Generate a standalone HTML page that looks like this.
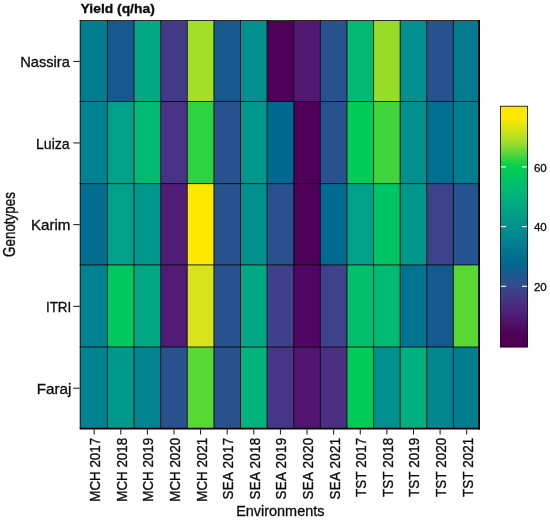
<!DOCTYPE html>
<html lang="en">
<head>
<meta charset="utf-8">
<title>Yield (q/ha) heatmap</title>
<style>
html,body{margin:0;padding:0;background:#fff;}
body{width:550px;height:520px;overflow:hidden;}
svg{display:block;}
text{font-family:"Liberation Sans",Arial,sans-serif;fill:#0c0c10;stroke:#0c0c10;stroke-width:0.3px;}
</style>
</head>
<body>
<svg width="550" height="520" viewBox="0 0 550 520">
<rect x="0" y="0" width="550" height="520" fill="#ffffff"/>
<g stroke="none" shape-rendering="crispEdges">
<rect x="80.20" y="20.50" width="27.56" height="81.30" fill="#007E90"/>
<rect x="107.46" y="20.50" width="26.91" height="81.30" fill="#16598F"/>
<rect x="134.07" y="20.50" width="26.91" height="81.30" fill="#00A984"/>
<rect x="160.68" y="20.50" width="26.91" height="81.30" fill="#433B88"/>
<rect x="187.29" y="20.50" width="26.91" height="81.30" fill="#A3DE28"/>
<rect x="213.90" y="20.50" width="26.91" height="81.30" fill="#16598F"/>
<rect x="240.51" y="20.50" width="26.91" height="81.30" fill="#00908E"/>
<rect x="267.12" y="20.50" width="26.91" height="81.30" fill="#4F0058"/>
<rect x="293.73" y="20.50" width="26.91" height="81.30" fill="#521973"/>
<rect x="320.34" y="20.50" width="26.91" height="81.30" fill="#27528E"/>
<rect x="346.95" y="20.50" width="26.91" height="81.30" fill="#00BA74"/>
<rect x="373.56" y="20.50" width="26.91" height="81.30" fill="#97DD28"/>
<rect x="400.17" y="20.50" width="26.91" height="81.30" fill="#00908E"/>
<rect x="426.78" y="20.50" width="26.91" height="81.30" fill="#27528E"/>
<rect x="453.39" y="20.50" width="26.01" height="81.30" fill="#007B90"/>
<rect x="80.20" y="101.50" width="27.56" height="82.40" fill="#008390"/>
<rect x="107.46" y="101.50" width="26.91" height="82.40" fill="#00A188"/>
<rect x="134.07" y="101.50" width="26.91" height="82.40" fill="#00BA74"/>
<rect x="160.68" y="101.50" width="26.91" height="82.40" fill="#493284"/>
<rect x="187.29" y="101.50" width="26.91" height="82.40" fill="#2ED341"/>
<rect x="213.90" y="101.50" width="26.91" height="82.40" fill="#27528E"/>
<rect x="240.51" y="101.50" width="26.91" height="82.40" fill="#00978C"/>
<rect x="267.12" y="101.50" width="26.91" height="82.40" fill="#006991"/>
<rect x="293.73" y="101.50" width="26.91" height="82.40" fill="#4F0058"/>
<rect x="320.34" y="101.50" width="26.91" height="82.40" fill="#27528E"/>
<rect x="346.95" y="101.50" width="26.91" height="82.40" fill="#00CC56"/>
<rect x="373.56" y="101.50" width="26.91" height="82.40" fill="#3FD43C"/>
<rect x="400.17" y="101.50" width="26.91" height="82.40" fill="#00908E"/>
<rect x="426.78" y="101.50" width="26.91" height="82.40" fill="#007091"/>
<rect x="453.39" y="101.50" width="26.01" height="82.40" fill="#007E90"/>
<rect x="80.20" y="183.60" width="27.56" height="81.60" fill="#006D91"/>
<rect x="107.46" y="183.60" width="26.91" height="81.60" fill="#00A188"/>
<rect x="134.07" y="183.60" width="26.91" height="81.60" fill="#00978C"/>
<rect x="160.68" y="183.60" width="26.91" height="81.60" fill="#511C75"/>
<rect x="187.29" y="183.60" width="26.91" height="81.60" fill="#FFE800"/>
<rect x="213.90" y="183.60" width="26.91" height="81.60" fill="#27528E"/>
<rect x="240.51" y="183.60" width="26.91" height="81.60" fill="#00908E"/>
<rect x="267.12" y="183.60" width="26.91" height="81.60" fill="#29518E"/>
<rect x="293.73" y="183.60" width="26.91" height="81.60" fill="#4F0058"/>
<rect x="320.34" y="183.60" width="26.91" height="81.60" fill="#006B91"/>
<rect x="346.95" y="183.60" width="26.91" height="81.60" fill="#00A188"/>
<rect x="373.56" y="183.60" width="26.91" height="81.60" fill="#00C564"/>
<rect x="400.17" y="183.60" width="26.91" height="81.60" fill="#00978C"/>
<rect x="426.78" y="183.60" width="26.91" height="81.60" fill="#3B448B"/>
<rect x="453.39" y="183.60" width="26.01" height="81.60" fill="#22558F"/>
<rect x="80.20" y="264.90" width="27.56" height="82.40" fill="#008390"/>
<rect x="107.46" y="264.90" width="26.91" height="82.40" fill="#00C85E"/>
<rect x="134.07" y="264.90" width="26.91" height="82.40" fill="#00A984"/>
<rect x="160.68" y="264.90" width="26.91" height="82.40" fill="#511C75"/>
<rect x="187.29" y="264.90" width="26.91" height="82.40" fill="#D8E31D"/>
<rect x="213.90" y="264.90" width="26.91" height="82.40" fill="#27528E"/>
<rect x="240.51" y="264.90" width="26.91" height="82.40" fill="#00A984"/>
<rect x="267.12" y="264.90" width="26.91" height="82.40" fill="#403F8A"/>
<rect x="293.73" y="264.90" width="26.91" height="82.40" fill="#510663"/>
<rect x="320.34" y="264.90" width="26.91" height="82.40" fill="#3D428A"/>
<rect x="346.95" y="264.90" width="26.91" height="82.40" fill="#00C06C"/>
<rect x="373.56" y="264.90" width="26.91" height="82.40" fill="#00BA74"/>
<rect x="400.17" y="264.90" width="26.91" height="82.40" fill="#007491"/>
<rect x="426.78" y="264.90" width="26.91" height="82.40" fill="#125A90"/>
<rect x="453.39" y="264.90" width="26.01" height="82.40" fill="#59D732"/>
<rect x="80.20" y="347.00" width="27.56" height="81.90" fill="#008390"/>
<rect x="107.46" y="347.00" width="26.91" height="81.90" fill="#009A8B"/>
<rect x="134.07" y="347.00" width="26.91" height="81.90" fill="#008590"/>
<rect x="160.68" y="347.00" width="26.91" height="81.90" fill="#29518E"/>
<rect x="187.29" y="347.00" width="26.91" height="81.90" fill="#59D732"/>
<rect x="213.90" y="347.00" width="26.91" height="81.90" fill="#29518E"/>
<rect x="240.51" y="347.00" width="26.91" height="81.90" fill="#00B37B"/>
<rect x="267.12" y="347.00" width="26.91" height="81.90" fill="#473686"/>
<rect x="293.73" y="347.00" width="26.91" height="81.90" fill="#521671"/>
<rect x="320.34" y="347.00" width="26.91" height="81.90" fill="#4B2F82"/>
<rect x="346.95" y="347.00" width="26.91" height="81.90" fill="#00CC56"/>
<rect x="373.56" y="347.00" width="26.91" height="81.90" fill="#00908E"/>
<rect x="400.17" y="347.00" width="26.91" height="81.90" fill="#00B07E"/>
<rect x="426.78" y="347.00" width="26.91" height="81.90" fill="#00878F"/>
<rect x="453.39" y="347.00" width="26.01" height="81.90" fill="#007E90"/>
</g>
<g stroke="#050505" stroke-width="0.85" fill="none">
<line x1="80.20" y1="20.00" x2="80.20" y2="428.60"/>
<line x1="107.46" y1="20.00" x2="107.46" y2="428.60"/>
<line x1="134.07" y1="20.00" x2="134.07" y2="428.60"/>
<line x1="160.68" y1="20.00" x2="160.68" y2="428.60"/>
<line x1="187.29" y1="20.00" x2="187.29" y2="428.60"/>
<line x1="213.90" y1="20.00" x2="213.90" y2="428.60"/>
<line x1="240.51" y1="20.00" x2="240.51" y2="428.60"/>
<line x1="267.12" y1="20.00" x2="267.12" y2="428.60"/>
<line x1="293.73" y1="20.00" x2="293.73" y2="428.60"/>
<line x1="320.34" y1="20.00" x2="320.34" y2="428.60"/>
<line x1="346.95" y1="20.00" x2="346.95" y2="428.60"/>
<line x1="373.56" y1="20.00" x2="373.56" y2="428.60"/>
<line x1="400.17" y1="20.00" x2="400.17" y2="428.60"/>
<line x1="426.78" y1="20.00" x2="426.78" y2="428.60"/>
<line x1="453.39" y1="20.00" x2="453.39" y2="428.60"/>
<line x1="79.70" y1="20.50" x2="479.10" y2="20.50"/>
<line x1="79.70" y1="101.50" x2="479.10" y2="101.50"/>
<line x1="79.70" y1="183.60" x2="479.10" y2="183.60"/>
<line x1="79.70" y1="264.90" x2="479.10" y2="264.90"/>
<line x1="79.70" y1="347.00" x2="479.10" y2="347.00"/>
</g>
<g stroke="#000" stroke-width="1.8" fill="none">
<line x1="479.10" y1="20.00" x2="479.10" y2="429.50"/>
<line x1="79.70" y1="428.60" x2="480.00" y2="428.60"/>
</g>
<text transform="translate(80.6,13.1) scale(1.11,1)" font-size="12.5" font-weight="bold">Yield (q/ha)</text>
<g stroke="#111" stroke-width="1">
<line x1="73.3" y1="61.40" x2="79.70" y2="61.40"/>
<line x1="73.3" y1="142.95" x2="79.70" y2="142.95"/>
<line x1="73.3" y1="224.65" x2="79.70" y2="224.65"/>
<line x1="73.3" y1="306.35" x2="79.70" y2="306.35"/>
<line x1="73.3" y1="388.20" x2="79.70" y2="388.20"/>
<line x1="94.16" y1="429.50" x2="94.16" y2="434.5"/>
<line x1="120.76" y1="429.50" x2="120.76" y2="434.5"/>
<line x1="147.38" y1="429.50" x2="147.38" y2="434.5"/>
<line x1="173.98" y1="429.50" x2="173.98" y2="434.5"/>
<line x1="200.59" y1="429.50" x2="200.59" y2="434.5"/>
<line x1="227.20" y1="429.50" x2="227.20" y2="434.5"/>
<line x1="253.81" y1="429.50" x2="253.81" y2="434.5"/>
<line x1="280.42" y1="429.50" x2="280.42" y2="434.5"/>
<line x1="307.03" y1="429.50" x2="307.03" y2="434.5"/>
<line x1="333.64" y1="429.50" x2="333.64" y2="434.5"/>
<line x1="360.25" y1="429.50" x2="360.25" y2="434.5"/>
<line x1="386.87" y1="429.50" x2="386.87" y2="434.5"/>
<line x1="413.48" y1="429.50" x2="413.48" y2="434.5"/>
<line x1="440.09" y1="429.50" x2="440.09" y2="434.5"/>
<line x1="466.69" y1="429.50" x2="466.69" y2="434.5"/>
</g>
<text transform="translate(69.9,67.00) scale(1.040,1)" font-size="14.1" text-anchor="end">Nassira</text>
<text transform="translate(69.7,148.55) scale(1.000,1)" font-size="14.1" text-anchor="end">Luiza</text>
<text transform="translate(70.5,230.25) scale(1.075,1)" font-size="14.1" text-anchor="end">Karim</text>
<text transform="translate(71.3,311.95) scale(0.955,1)" font-size="14.1" text-anchor="end">ITRI</text>
<text transform="translate(71.3,393.80) scale(1.080,1)" font-size="14.1" text-anchor="end">Faraj</text>
<text transform="translate(100.06,437.9) scale(1.15,1) rotate(-90)" font-size="13.4" text-anchor="end" textLength="63.8" lengthAdjust="spacing">MCH 2017</text>
<text transform="translate(126.66,437.9) scale(1.15,1) rotate(-90)" font-size="13.4" text-anchor="end" textLength="63.8" lengthAdjust="spacing">MCH 2018</text>
<text transform="translate(153.28,437.9) scale(1.15,1) rotate(-90)" font-size="13.4" text-anchor="end" textLength="63.8" lengthAdjust="spacing">MCH 2019</text>
<text transform="translate(179.88,437.9) scale(1.15,1) rotate(-90)" font-size="13.4" text-anchor="end" textLength="63.8" lengthAdjust="spacing">MCH 2020</text>
<text transform="translate(206.50,437.9) scale(1.15,1) rotate(-90)" font-size="13.4" text-anchor="end" textLength="63.8" lengthAdjust="spacing">MCH 2021</text>
<text transform="translate(233.10,437.9) scale(1.15,1) rotate(-90)" font-size="13.4" text-anchor="end" textLength="61.5" lengthAdjust="spacing">SEA 2017</text>
<text transform="translate(259.71,437.9) scale(1.15,1) rotate(-90)" font-size="13.4" text-anchor="end" textLength="61.5" lengthAdjust="spacing">SEA 2018</text>
<text transform="translate(286.32,437.9) scale(1.15,1) rotate(-90)" font-size="13.4" text-anchor="end" textLength="61.5" lengthAdjust="spacing">SEA 2019</text>
<text transform="translate(312.93,437.9) scale(1.15,1) rotate(-90)" font-size="13.4" text-anchor="end" textLength="61.5" lengthAdjust="spacing">SEA 2020</text>
<text transform="translate(339.54,437.9) scale(1.15,1) rotate(-90)" font-size="13.4" text-anchor="end" textLength="61.5" lengthAdjust="spacing">SEA 2021</text>
<text transform="translate(366.15,437.9) scale(1.15,1) rotate(-90)" font-size="13.4" text-anchor="end" textLength="59.0" lengthAdjust="spacing">TST 2017</text>
<text transform="translate(392.76,437.9) scale(1.15,1) rotate(-90)" font-size="13.4" text-anchor="end" textLength="59.0" lengthAdjust="spacing">TST 2018</text>
<text transform="translate(419.38,437.9) scale(1.15,1) rotate(-90)" font-size="13.4" text-anchor="end" textLength="59.0" lengthAdjust="spacing">TST 2019</text>
<text transform="translate(445.99,437.9) scale(1.15,1) rotate(-90)" font-size="13.4" text-anchor="end" textLength="59.0" lengthAdjust="spacing">TST 2020</text>
<text transform="translate(472.59,437.9) scale(1.15,1) rotate(-90)" font-size="13.4" text-anchor="end" textLength="59.0" lengthAdjust="spacing">TST 2021</text>
<text transform="translate(280.3,515.6) scale(1.04,1)" font-size="13.9" text-anchor="middle">Environments</text>
<text transform="translate(14.5,224.5) scale(1.22,1) rotate(-90)" font-size="13.4" text-anchor="middle">Genotypes</text>
<defs><linearGradient id="lg" x1="0" y1="1" x2="0" y2="0">
<stop offset="0.050" stop-color="#4E0055"/>
<stop offset="0.150" stop-color="#4F237B"/>
<stop offset="0.250" stop-color="#36498C"/>
<stop offset="0.350" stop-color="#006890"/>
<stop offset="0.450" stop-color="#008490"/>
<stop offset="0.550" stop-color="#009F89"/>
<stop offset="0.650" stop-color="#00B976"/>
<stop offset="0.750" stop-color="#00CF4E"/>
<stop offset="0.850" stop-color="#A2DE28"/>
<stop offset="0.950" stop-color="#FFE800"/>
</linearGradient></defs>
<rect x="500.40" y="106.20" width="27.20" height="240.90" fill="url(#lg)" stroke="#000" stroke-width="0.8"/>
<g stroke="#eef6f2" stroke-width="1.2">
<line x1="500.90" y1="166.90" x2="506.00" y2="166.90"/>
<line x1="522.00" y1="166.90" x2="527.10" y2="166.90"/>
<line x1="500.90" y1="226.60" x2="506.00" y2="226.60"/>
<line x1="522.00" y1="226.60" x2="527.10" y2="226.60"/>
<line x1="500.90" y1="286.30" x2="506.00" y2="286.30"/>
<line x1="522.00" y1="286.30" x2="527.10" y2="286.30"/>
</g>
<text transform="translate(533.9,171.50) scale(1.05,1)" font-size="11">60</text>
<text transform="translate(533.9,231.20) scale(1.05,1)" font-size="11">40</text>
<text transform="translate(533.9,290.90) scale(1.05,1)" font-size="11">20</text>
</svg>
</body>
</html>
